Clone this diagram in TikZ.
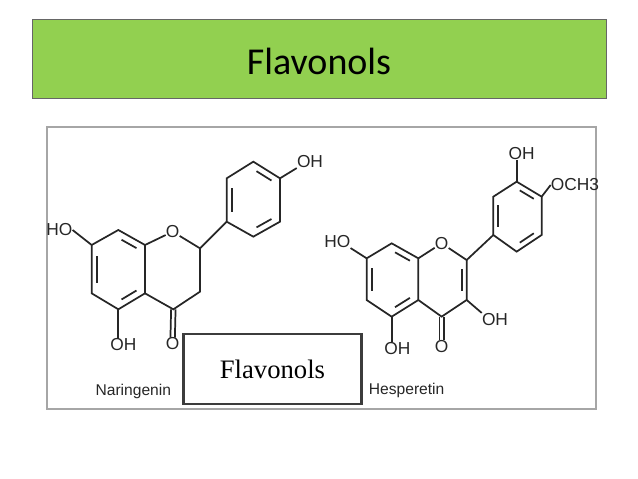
\documentclass[tikz,border=0pt]{standalone}
\usepackage{fontspec}
\setmainfont{Liberation Sans}
\newfontfamily\titlefont{Carlito}
\newfontfamily\timesfont{Liberation Serif}
\usetikzlibrary{calc}
\definecolor{bar}{HTML}{92D050}
\definecolor{ink}{HTML}{262626}
\tikzset{bond/.style={draw=ink,line width=1.3pt},
 atom/.style={font=\fontsize{13}{14}\selectfont,text=ink,inner sep=0pt},
 molname/.style={font=\fontsize{11.7}{12}\selectfont,text=ink,inner sep=0pt}}
\newcommand{\dbl}[3]{\draw[bond] ($($(#1)!.15!(#2)$)!.2!(#3)$) -- ($($(#1)!.85!(#2)$)!.2!(#3)$);}
\begin{document}
\begin{tikzpicture}[x=0.75pt,y=-0.75pt]
\useasboundingbox (0,0) rectangle (638,478);
\node[draw=gray!80!black,fill=bar,line width=0.8pt,minimum width=574*0.75pt,minimum height=79*0.75pt,anchor=north west] (title) at (32,19) {};
\node[font=\titlefont\fontsize{28.5}{30}\selectfont] (tt) at (319,61) {Flavonols};
\draw[gray!70,line width=1.3pt] (47,127) rectangle (596,409);
% Naringenin
\begin{scope}[shift={(40,120)},scale=1/3]
\coordinate (na1) at (235,330); \coordinate (na2) at (315,375); \coordinate (na3) at (315,520);
\coordinate (na4) at (235,568); \coordinate (na5) at (155,520); \coordinate (na6) at (155,375);
\coordinate (nac) at (235,449);
\coordinate (nO) at (398,335); \coordinate (nc2) at (480,385); \coordinate (nc3) at (480,515); \coordinate (nc4) at (400,568);
\coordinate (nb1) at (560,305); \coordinate (nb2) at (560,175); \coordinate (nb3) at (640,125);
\coordinate (nb4) at (720,175); \coordinate (nb5) at (720,305); \coordinate (nb6) at (640,350);
\coordinate (nbc) at (640,238);
\node[atom] (nOl) at (nO) {O};
\node[atom] (nHO) at (58,330) {HO};
\node[atom] (nOH1) at (250,675) {OH};
\node[atom] (nOk) at (398,672) {O};
\node[atom] (nOH2) at (810,125) {OH};
\draw[bond] (na1)--(na2)--(na3)--(na4)--(na5)--(na6)--cycle;
\dbl{na1}{na2}{nac}\dbl{na3}{na4}{nac}\dbl{na5}{na6}{nac}
\draw[bond] (na2)--(nOl)--(nc2)--(nc3)--(nc4)--(na3);
\draw[bond] (nc2)--(nb1);
\draw[bond] (nb1)--(nb2)--(nb3)--(nb4)--(nb5)--(nb6)--cycle;
\dbl{nb1}{nb2}{nbc}\dbl{nb3}{nb4}{nbc}\dbl{nb5}{nb6}{nbc}
\draw[bond] (na6)--(nHO.east);
\draw[bond] (na4)--(nOH1.north-|na4);
\draw[bond] ([xshift=-5pt]nc4)--([xshift=-5pt]nOk.north);
\draw[bond] ([xshift=5pt]nc4)--([xshift=5pt]nOk.north);
\draw[bond] (nb4)--(nOH2.south west);
\node[molname] (nlab) at (280,815) {Naringenin};
\end{scope}
\node[draw=ink!90,line width=2.2pt,minimum width=178*0.75pt,minimum height=70*0.75pt,font=\timesfont\fontsize{20}{20}\selectfont] (box) at (272.5,369) {Flavonols};
% Hesperetin
\begin{scope}[shift={(320,120)},scale=1/3]
\coordinate (ha1) at (215,370); \coordinate (ha2) at (295,415); \coordinate (ha3) at (295,540);
\coordinate (ha4) at (215,590); \coordinate (ha5) at (140,540); \coordinate (ha6) at (140,415);
\coordinate (hac) at (217,478);
\coordinate (hO) at (365,370); \coordinate (hc2) at (440,420); \coordinate (hc3) at (440,540); \coordinate (hc4) at (365,590);
\coordinate (hb1) at (520,345); \coordinate (hb2) at (520,230); \coordinate (hb3) at (590,185);
\coordinate (hb4) at (665,230); \coordinate (hb5) at (665,345); \coordinate (hb6) at (590,395);
\coordinate (hbc) at (592,289); \coordinate (hcc) at (368,480);
\node[atom] (hOl) at (hO) {O};
\node[atom] (hHO) at (52,365) {HO};
\node[atom] (hOH1) at (232,685) {OH};
\node[atom] (hOk) at (365,680) {O};
\node[atom] (hOH3) at (525,598) {OH};
\node[atom] (hOH2) at (605,100) {OH};
\node[atom] (hOMe) at (765,195) {OCH3};
\draw[bond] (ha1)--(ha2)--(ha3)--(ha4)--(ha5)--(ha6)--cycle;
\dbl{ha1}{ha2}{hac}\dbl{ha3}{ha4}{hac}\dbl{ha5}{ha6}{hac}
\draw[bond] (ha2)--(hOl)--(hc2)--(hc3)--(hc4)--(ha3);
\dbl{hc2}{hc3}{hcc}
\draw[bond] (hc2)--(hb1);
\draw[bond] (hb1)--(hb2)--(hb3)--(hb4)--(hb5)--(hb6)--cycle;
\dbl{hb1}{hb2}{hbc}\dbl{hb3}{hb4}{hbc}\dbl{hb5}{hb6}{hbc}
\draw[bond] (ha6)--(hHO.south east);
\draw[bond] (ha4)--(hOH1.north-|ha4);
\draw[bond] ([xshift=-5pt]hc4)--([xshift=-5pt]hOk.north);
\draw[bond] ([xshift=5pt]hc4)--([xshift=5pt]hOk.north);
\draw[bond] (hc3)--(hOH3.north west);
\draw[bond] (hb3)--(hOH2.south-|hb3);
\draw[bond] (hb4)--(hOMe.west);
\node[molname] (hlab) at (260,810) {Hesperetin};
\end{scope}
\end{tikzpicture}
\end{document}
